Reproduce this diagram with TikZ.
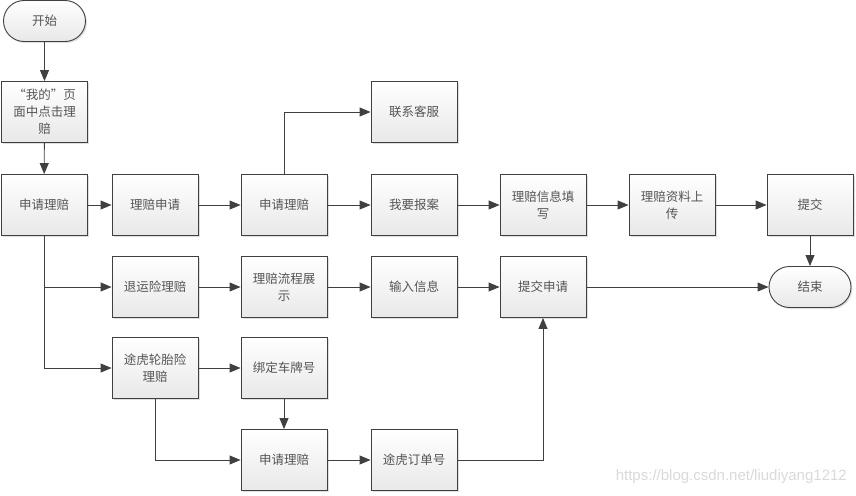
\documentclass[tikz,border=0pt]{standalone}
\usepackage{fontspec}
\setmainfont{Noto Sans CJK SC}
\newfontfamily\urlfont{Liberation Sans}
\usetikzlibrary{arrows.meta,shapes.misc,shadows}
\definecolor{linegray}{HTML}{404040}
\definecolor{textgray}{HTML}{555555}
\tikzset{box/.style={draw=linegray,line width=0.9pt,top color=white,bottom color=gray!18,
    minimum width=86pt,minimum height=61pt,inner sep=2pt,align=center,text=textgray,
    font=\fontsize{12.5}{17}\selectfont,drop shadow={shadow xshift=1.5pt,shadow yshift=-1.5pt,opacity=0.25}}}
\tikzset{term/.style={box,rounded rectangle,minimum height=41pt}}
\tikzset{arr/.style={draw=linegray,line width=0.9pt,-{Triangle[length=11pt,width=9pt]}}}

\begin{document}
\begin{tikzpicture}[x=1pt,y=-1pt]
  \useasboundingbox (0,0) rectangle (856,495);
  \node[term] (start) at (44.5,21) {开始};
  \node[box] (page) at (44.5,112) {“我的”页\\面中点击理\\赔};
  \node[box] (apply) at (44,205) {申请理赔};
  \node[box] (claim) at (155,205) {理赔申请};
  \node[box] (applyb) at (284,205) {申请理赔};
  \node[box] (service) at (414,112) {联系客服};
  \node[box] (report) at (414,205) {我要报案};
  \node[box] (fill) at (543,205) {理赔信息填\\写};
  \node[box] (upload) at (672,205) {理赔资料上\\传};
  \node[box] (submit) at (810,205) {提交};
  \node[box] (refund) at (155,287) {退运险理赔};
  \node[box] (process) at (284,287) {理赔流程展\\示};
  \node[box] (input) at (414,287) {输入信息};
  \node[box] (submitapp) at (543,287) {提交申请};
  \node[term] (end) at (810,287) {结束};
  \node[box] (tire) at (155,368) {途虎轮胎险\\理赔};
  \node[box] (plate) at (284,368) {绑定车牌号};
  \node[box] (applyc) at (284,460) {申请理赔};
  \node[box] (order) at (414,460) {途虎订单号};
  \node[text=gray!30,font=\urlfont\fontsize{15}{17}\selectfont,anchor=east,inner sep=0pt] (mark) at (847,477) {https://blog.csdn.net/liudiyang1212};
  \draw[arr] (start) -- (page);
  \draw[arr] (page) -- (apply);
  \draw[arr] (apply) -- (claim);
  \draw[arr] (claim) -- (applyb);
  \draw[arr] (applyb) -- (report);
  \draw[arr] (report) -- (fill);
  \draw[arr] (fill) -- (upload);
  \draw[arr] (upload) -- (submit);
  \draw[arr] (submit) -- (end);
  \draw[arr] (applyb.north) |- (service);
  \draw[arr] (apply.south) |- (refund);
  \draw[arr] (apply.south) |- (tire);
  \draw[arr] (refund) -- (process);
  \draw[arr] (process) -- (input);
  \draw[arr] (input) -- (submitapp);
  \draw[arr] (submitapp) -- (end);
  \draw[arr] (tire) -- (plate);
  \draw[arr] (plate) -- (applyc);
  \draw[arr] (tire.south) |- (applyc);
  \draw[arr] (applyc) -- (order);
  \draw[arr] (order) -| (submitapp);
\end{tikzpicture}
\end{document}
